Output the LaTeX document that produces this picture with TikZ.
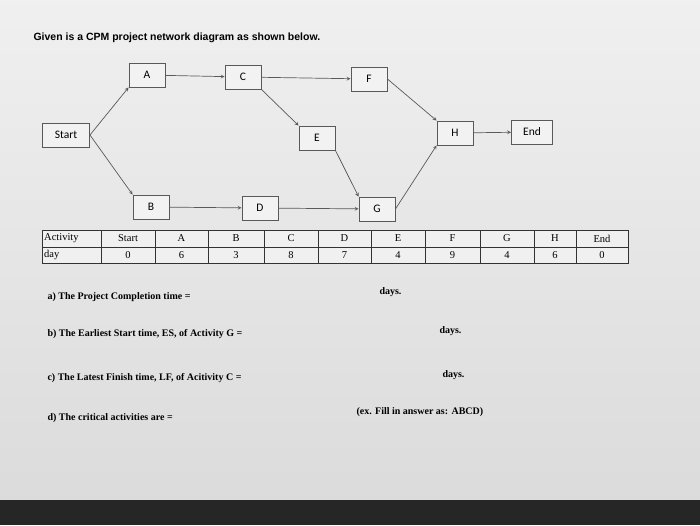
\documentclass[tikz,border=0pt]{standalone}
\usepackage{fontspec}
\setmainfont{Liberation Serif}
\newfontfamily\sansf{Liberation Sans}
\newfontfamily\boxf{Carlito}
\begin{document}
\begin{tikzpicture}[x=1pt,y=-1pt,
  nd/.style={draw=black!65,line width=0.9pt,fill=white!95!black,minimum height=24pt,inner xsep=3pt,font=\boxf\fontsize{11.5}{13}\selectfont},
  ar/.style={->,>=stealth,draw=black!65,line width=0.7pt},
  q/.style={anchor=west,font=\bfseries\fontsize{10}{12}\selectfont},
  cell/.style={font=\fontsize{10.5}{12}\selectfont}]
\shade[top color=black!6,bottom color=black!14] (0,0) rectangle (700,500);
\fill[black!85] (0,500) rectangle (700,525);
\useasboundingbox (0,0) rectangle (700,525);
\node[anchor=west,font=\sansf\bfseries\fontsize{10.5}{12}\selectfont] (title) at (30,38) {Given is a CPM project network diagram as shown below.};
\node[nd,minimum width=47pt] (S) at (66,135) {Start};
\node[nd,minimum width=36pt] (A) at (147,75) {A};
\node[nd,minimum width=36pt] (C) at (243,77) {C};
\node[nd,minimum width=36pt] (F) at (369,79) {F};
\node[nd,minimum width=36pt] (E) at (317,138) {E};
\node[nd,minimum width=36pt] (H) at (455,133) {H};
\node[nd,minimum width=41pt] (End) at (532,132) {End};
\node[nd,minimum width=36pt] (B) at (151,207) {B};
\node[nd,minimum width=36pt] (D) at (260,208) {D};
\node[nd,minimum width=36pt] (G) at (377,209) {G};
\draw[ar] (S.east) -- (A.south west);
\draw[ar] (S.east) -- (B.north west);
\draw[ar] (A) -- (C);
\draw[ar] (C) -- (F);
\draw[ar] (C.south east) -- (E.north west);
\draw[ar] (F.east) -- (H.north west);
\draw[ar] (E.south east) -- (G.north west);
\draw[ar] (B) -- (D);
\draw[ar] (D) -- (G);
\draw[ar] (G.east) -- (H.south west);
\draw[ar] (H) -- (End);
% table
\fill[white!94!black] (42,230) rectangle (628,263);
\draw[black!80,line width=0.9pt] (42,230) rectangle (628,263);
\draw[black!80,line width=0.9pt] (42,247) -- (628,247);
\foreach \x in {101,155,208,264,318,371,425,480,534,576}
  \draw[black!80,line width=0.9pt] (\x,230) -- (\x,263);
\node[cell,anchor=west,inner xsep=2pt] (h0) at (42,238.5) {Activity};
\node[cell,anchor=west,inner xsep=2pt] (d0) at (42,255) {day};
\foreach \l/\v/\a/\b [count=\i] in {Start/0/101/155,A/6/155/208,B/3/208/264,C/8/264/318,D/7/318/371,E/4/371/425,F/9/425/480,G/4/480/534,H/6/534/576,End/0/576/628}{
  \node[cell] (h\i) at ({(\a+\b)/2},238.5) {\l};
  \node[cell] (d\i) at ({(\a+\b)/2},255) {\v};
}
\node[q] (qa) at (44,297) {a) The Project Completion time =};
\node[q] (da) at (376,292) {days.};
\node[q] (qb) at (44,334) {b) The Earliest Start time, ES, of Activity G =};
\node[q] (db) at (436,331) {days.};
\node[q] (qc) at (44,378) {c) The Latest Finish time, LF, of Acitivity C =};
\node[q] (dc) at (439,375) {days.};
\node[q] (qd) at (44,418) {d) The critical activities are =};
\node[q] (dd) at (353,412) {(ex. Fill in answer as: ABCD)};
\end{tikzpicture}
\end{document}
